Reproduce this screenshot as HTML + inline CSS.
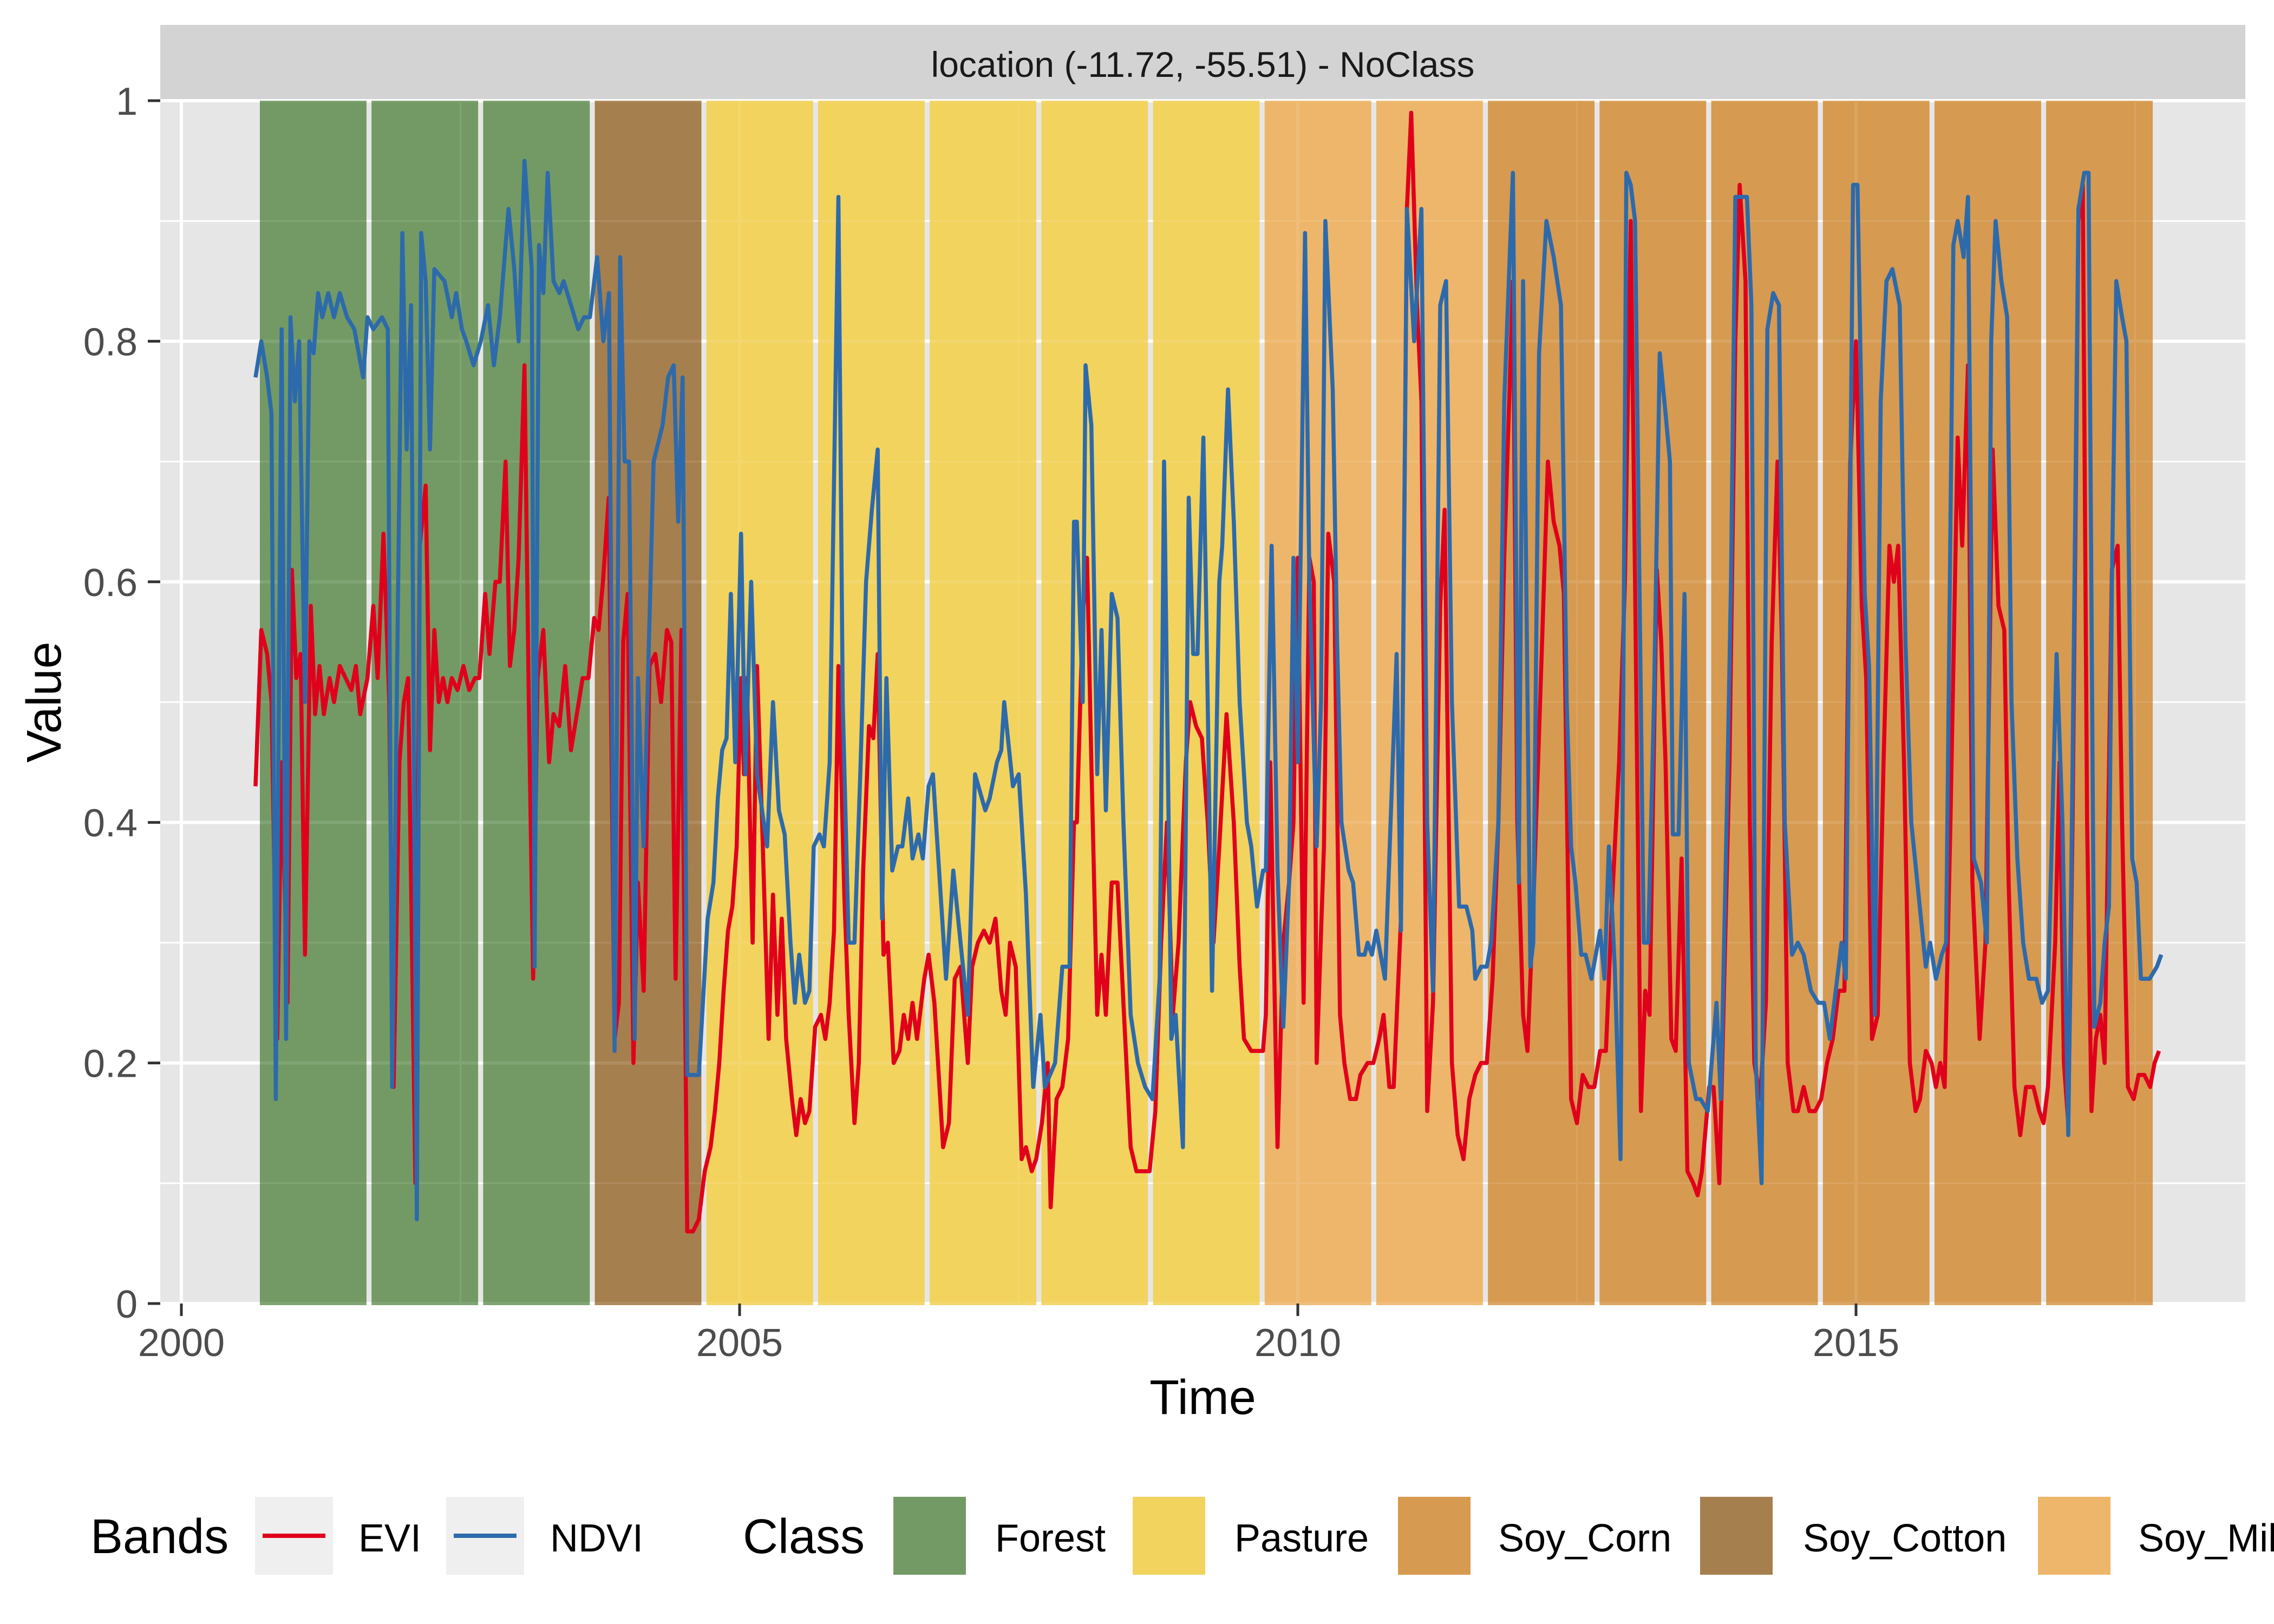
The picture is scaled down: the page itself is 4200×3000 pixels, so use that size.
<!DOCTYPE html>
<html><head><meta charset="utf-8"><style>html,body{margin:0;padding:0;background:#fff}svg{display:block}text{font-family:"Liberation Sans",sans-serif}</style></head>
<body>
<svg id="chart" width="4200" height="3000" viewBox="0 0 4200 3000" xmlns="http://www.w3.org/2000/svg">
<rect x="0" y="0" width="4200" height="3000" fill="#fff"/>
<g id="panel"></g>
</svg>
<script>
const classStarts = [2000.703,2001.703,2002.703,2003.703,2004.703,2005.703,2006.703,2007.703,2008.703,2009.703,2010.703,2011.703,2012.703,2013.703,2014.703,2015.703,2016.703];
const classLabels = ["Forest","Forest","Forest","Soy_Cotton","Pasture","Pasture","Pasture","Pasture","Pasture","Soy_Millet","Soy_Millet","Soy_Corn","Soy_Corn","Soy_Corn","Soy_Corn","Soy_Corn","Soy_Corn"];
const xTicks = [2000,2005,2010,2015];
const yTicks = [0,0.2,0.4,0.6,0.8,1];
const yTickLabels = ["0","0.2","0.4","0.6","0.8","1"];
const ndviTime = [2000.664,2000.716,2000.768,2000.807,2000.846,2000.898,2000.938,2000.977,2001.016,2001.055,2001.107,2001.146,2001.185,2001.224,2001.263,2001.315,2001.367,2001.419,2001.484,2001.549,2001.628,2001.667,2001.719,2001.797,2001.849,2001.888,2001.979,2002.018,2002.057,2002.109,2002.148,2002.188,2002.227,2002.266,2002.357,2002.422,2002.461,2002.513,2002.552,2002.617,2002.682,2002.747,2002.799,2002.852,2002.930,2002.982,2003.021,2003.073,2003.138,2003.164,2003.203,2003.242,2003.281,2003.333,2003.385,2003.424,2003.490,2003.555,2003.607,2003.659,2003.724,2003.780,2003.830,2003.880,2003.930,2003.970,2004.010,2004.060,2004.090,2004.140,2004.230,2004.310,2004.360,2004.410,2004.450,2004.490,2004.531,2004.635,2004.714,2004.766,2004.805,2004.844,2004.883,2004.922,2004.961,2005.013,2005.052,2005.104,2005.156,2005.247,2005.299,2005.352,2005.404,2005.456,2005.495,2005.534,2005.586,2005.625,2005.664,2005.716,2005.755,2005.807,2005.885,2005.924,2005.977,2006.029,2006.081,2006.133,2006.185,2006.237,2006.276,2006.315,2006.367,2006.419,2006.458,2006.510,2006.549,2006.602,2006.641,2006.693,2006.732,2006.849,2006.914,2007.044,2007.109,2007.201,2007.240,2007.305,2007.344,2007.370,2007.448,2007.500,2007.565,2007.630,2007.695,2007.734,2007.826,2007.891,2007.956,2007.995,2008.021,2008.073,2008.099,2008.151,2008.203,2008.242,2008.281,2008.333,2008.385,2008.438,2008.503,2008.568,2008.633,2008.698,2008.763,2008.802,2008.867,2008.906,2008.971,2009.023,2009.063,2009.102,2009.154,2009.193,2009.232,2009.297,2009.323,2009.375,2009.427,2009.479,2009.544,2009.583,2009.635,2009.688,2009.714,2009.766,2009.818,2009.870,2009.922,2009.961,2010.000,2010.065,2010.104,2010.169,2010.208,2010.247,2010.313,2010.352,2010.391,2010.456,2010.495,2010.547,2010.599,2010.625,2010.664,2010.703,2010.781,2010.885,2010.924,2010.977,2011.042,2011.107,2011.159,2011.211,2011.276,2011.328,2011.380,2011.445,2011.510,2011.563,2011.589,2011.641,2011.693,2011.732,2011.797,2011.849,2011.927,2011.979,2012.018,2012.083,2012.109,2012.161,2012.227,2012.292,2012.357,2012.409,2012.448,2012.487,2012.539,2012.578,2012.630,2012.708,2012.747,2012.786,2012.839,2012.891,2012.943,2012.982,2013.021,2013.099,2013.138,2013.190,2013.242,2013.294,2013.333,2013.359,2013.411,2013.464,2013.503,2013.568,2013.607,2013.672,2013.750,2013.789,2013.841,2013.880,2013.919,2013.971,2014.023,2014.063,2014.102,2014.154,2014.206,2014.258,2014.310,2014.362,2014.427,2014.479,2014.531,2014.596,2014.661,2014.714,2014.766,2014.818,2014.870,2014.909,2014.974,2015.013,2015.078,2015.117,2015.169,2015.221,2015.273,2015.326,2015.391,2015.443,2015.495,2015.560,2015.625,2015.664,2015.716,2015.768,2015.807,2015.872,2015.911,2015.964,2016.003,2016.055,2016.120,2016.172,2016.211,2016.250,2016.302,2016.354,2016.393,2016.445,2016.497,2016.549,2016.615,2016.667,2016.719,2016.797,2016.849,2016.901,2016.940,2016.992,2017.044,2017.083,2017.135,2017.188,2017.227,2017.266,2017.292,2017.331,2017.383,2017.422,2017.474,2017.513,2017.552,2017.630,2017.695,2017.734];
const ndviValue = [0.77,0.80,0.77,0.74,0.17,0.81,0.22,0.82,0.75,0.80,0.50,0.80,0.79,0.84,0.82,0.84,0.82,0.84,0.82,0.81,0.77,0.82,0.81,0.82,0.81,0.18,0.89,0.71,0.83,0.07,0.89,0.85,0.71,0.86,0.85,0.82,0.84,0.81,0.80,0.78,0.80,0.83,0.78,0.82,0.91,0.86,0.80,0.95,0.86,0.28,0.88,0.84,0.94,0.85,0.84,0.85,0.83,0.81,0.82,0.82,0.87,0.80,0.84,0.21,0.87,0.70,0.70,0.22,0.52,0.38,0.70,0.73,0.77,0.78,0.65,0.77,0.19,0.19,0.32,0.35,0.42,0.46,0.47,0.59,0.45,0.64,0.44,0.60,0.44,0.38,0.50,0.41,0.39,0.30,0.25,0.29,0.25,0.26,0.38,0.39,0.38,0.45,0.92,0.50,0.30,0.30,0.44,0.60,0.66,0.71,0.32,0.52,0.36,0.38,0.38,0.42,0.37,0.39,0.37,0.43,0.44,0.27,0.36,0.24,0.44,0.41,0.42,0.45,0.46,0.50,0.43,0.44,0.34,0.18,0.24,0.18,0.20,0.28,0.28,0.65,0.65,0.50,0.78,0.73,0.44,0.56,0.41,0.59,0.57,0.40,0.24,0.20,0.18,0.17,0.27,0.70,0.22,0.24,0.13,0.67,0.54,0.54,0.72,0.50,0.26,0.60,0.63,0.76,0.65,0.50,0.40,0.38,0.33,0.36,0.36,0.63,0.36,0.23,0.35,0.62,0.45,0.89,0.60,0.38,0.50,0.90,0.76,0.55,0.40,0.36,0.35,0.29,0.29,0.30,0.29,0.31,0.27,0.54,0.31,0.91,0.80,0.91,0.40,0.26,0.83,0.85,0.50,0.33,0.33,0.31,0.27,0.28,0.28,0.30,0.40,0.75,0.94,0.35,0.85,0.28,0.30,0.79,0.90,0.87,0.83,0.50,0.38,0.35,0.29,0.29,0.27,0.31,0.27,0.38,0.28,0.12,0.94,0.93,0.90,0.30,0.30,0.50,0.79,0.74,0.70,0.39,0.39,0.59,0.20,0.17,0.17,0.16,0.25,0.17,0.40,0.60,0.92,0.92,0.92,0.83,0.20,0.10,0.81,0.84,0.83,0.40,0.29,0.30,0.29,0.26,0.25,0.25,0.22,0.26,0.30,0.27,0.93,0.93,0.59,0.53,0.24,0.75,0.85,0.86,0.83,0.55,0.40,0.34,0.28,0.30,0.27,0.29,0.30,0.88,0.90,0.87,0.92,0.37,0.35,0.30,0.80,0.90,0.85,0.82,0.50,0.37,0.30,0.27,0.27,0.25,0.26,0.54,0.40,0.14,0.45,0.91,0.94,0.94,0.23,0.25,0.30,0.33,0.60,0.85,0.82,0.80,0.37,0.35,0.27,0.27,0.28,0.29];
const eviTime = [2000.664,2000.716,2000.768,2000.807,2000.859,2000.898,2000.951,2000.990,2001.029,2001.068,2001.107,2001.159,2001.198,2001.237,2001.276,2001.328,2001.367,2001.419,2001.471,2001.523,2001.563,2001.602,2001.667,2001.719,2001.758,2001.810,2001.862,2001.901,2001.953,2001.992,2002.031,2002.096,2002.135,2002.188,2002.227,2002.266,2002.305,2002.344,2002.383,2002.422,2002.474,2002.526,2002.578,2002.630,2002.669,2002.721,2002.760,2002.813,2002.852,2002.904,2002.943,2002.982,2003.021,2003.073,2003.112,2003.151,2003.190,2003.242,2003.294,2003.333,2003.385,2003.438,2003.490,2003.542,2003.594,2003.646,2003.698,2003.737,2003.776,2003.828,2003.880,2003.919,2003.958,2003.997,2004.049,2004.089,2004.141,2004.193,2004.245,2004.297,2004.349,2004.388,2004.427,2004.479,2004.531,2004.583,2004.635,2004.688,2004.740,2004.779,2004.818,2004.857,2004.896,2004.935,2004.974,2005.013,2005.039,2005.065,2005.117,2005.156,2005.208,2005.260,2005.299,2005.339,2005.378,2005.417,2005.469,2005.508,2005.547,2005.586,2005.625,2005.677,2005.729,2005.768,2005.807,2005.846,2005.885,2005.938,2005.977,2006.029,2006.068,2006.107,2006.159,2006.198,2006.237,2006.289,2006.328,2006.380,2006.432,2006.471,2006.510,2006.549,2006.589,2006.654,2006.693,2006.745,2006.823,2006.875,2006.927,2006.979,2007.044,2007.083,2007.135,2007.188,2007.240,2007.292,2007.344,2007.383,2007.422,2007.474,2007.526,2007.565,2007.617,2007.656,2007.708,2007.760,2007.786,2007.839,2007.891,2007.943,2007.995,2008.021,2008.073,2008.112,2008.151,2008.203,2008.242,2008.281,2008.333,2008.385,2008.438,2008.503,2008.555,2008.607,2008.672,2008.724,2008.776,2008.828,2008.880,2008.932,2008.997,2009.036,2009.089,2009.141,2009.193,2009.245,2009.297,2009.362,2009.427,2009.479,2009.518,2009.583,2009.635,2009.688,2009.714,2009.753,2009.818,2009.870,2009.922,2009.961,2010.000,2010.052,2010.104,2010.143,2010.169,2010.234,2010.273,2010.326,2010.378,2010.417,2010.469,2010.521,2010.560,2010.625,2010.677,2010.729,2010.768,2010.820,2010.859,2010.924,2010.977,2011.016,2011.068,2011.107,2011.159,2011.211,2011.276,2011.315,2011.380,2011.432,2011.484,2011.536,2011.589,2011.641,2011.693,2011.745,2011.797,2011.849,2011.927,2011.966,2012.018,2012.057,2012.109,2012.188,2012.240,2012.292,2012.344,2012.383,2012.448,2012.500,2012.552,2012.604,2012.656,2012.708,2012.760,2012.813,2012.878,2012.930,2012.982,2013.021,2013.073,2013.112,2013.151,2013.216,2013.255,2013.294,2013.346,2013.385,2013.438,2013.490,2013.542,2013.581,2013.620,2013.685,2013.724,2013.776,2013.828,2013.867,2013.919,2013.958,2014.010,2014.049,2014.089,2014.141,2014.193,2014.245,2014.297,2014.336,2014.388,2014.440,2014.479,2014.531,2014.583,2014.635,2014.688,2014.740,2014.792,2014.844,2014.896,2014.948,2015.000,2015.052,2015.091,2015.143,2015.195,2015.247,2015.299,2015.339,2015.378,2015.430,2015.482,2015.534,2015.573,2015.625,2015.677,2015.716,2015.755,2015.794,2015.846,2015.911,2015.951,2016.003,2016.042,2016.107,2016.159,2016.224,2016.276,2016.328,2016.367,2016.419,2016.471,2016.523,2016.589,2016.641,2016.680,2016.719,2016.784,2016.823,2016.862,2016.901,2016.940,2016.992,2017.031,2017.070,2017.109,2017.148,2017.188,2017.227,2017.292,2017.344,2017.383,2017.435,2017.487,2017.531,2017.583,2017.635,2017.674,2017.714];
const eviValue = [0.43,0.56,0.54,0.50,0.22,0.45,0.25,0.61,0.52,0.54,0.29,0.58,0.49,0.53,0.49,0.52,0.50,0.53,0.52,0.51,0.53,0.49,0.52,0.58,0.52,0.64,0.50,0.18,0.45,0.50,0.52,0.10,0.63,0.68,0.46,0.56,0.50,0.52,0.50,0.52,0.51,0.53,0.51,0.52,0.52,0.59,0.54,0.60,0.60,0.70,0.53,0.56,0.62,0.78,0.50,0.27,0.52,0.56,0.45,0.49,0.48,0.53,0.46,0.49,0.52,0.52,0.57,0.56,0.60,0.67,0.22,0.25,0.55,0.59,0.20,0.35,0.26,0.53,0.54,0.50,0.56,0.55,0.27,0.56,0.06,0.06,0.07,0.11,0.13,0.16,0.20,0.26,0.31,0.33,0.38,0.52,0.44,0.52,0.30,0.53,0.38,0.22,0.34,0.24,0.32,0.22,0.17,0.14,0.17,0.15,0.16,0.23,0.24,0.22,0.25,0.31,0.53,0.34,0.24,0.15,0.20,0.36,0.48,0.47,0.54,0.29,0.30,0.20,0.21,0.24,0.22,0.25,0.22,0.27,0.29,0.25,0.13,0.15,0.27,0.28,0.20,0.28,0.30,0.31,0.30,0.32,0.26,0.24,0.30,0.28,0.12,0.13,0.11,0.12,0.15,0.20,0.08,0.17,0.18,0.22,0.40,0.40,0.57,0.62,0.45,0.24,0.29,0.24,0.35,0.35,0.25,0.13,0.11,0.11,0.11,0.16,0.30,0.40,0.24,0.30,0.45,0.50,0.48,0.47,0.40,0.30,0.38,0.49,0.40,0.28,0.22,0.21,0.21,0.21,0.24,0.45,0.13,0.30,0.35,0.40,0.62,0.25,0.62,0.60,0.20,0.38,0.64,0.60,0.24,0.20,0.17,0.17,0.19,0.20,0.20,0.22,0.24,0.18,0.18,0.32,0.91,0.99,0.83,0.75,0.16,0.25,0.58,0.66,0.20,0.14,0.12,0.17,0.19,0.20,0.20,0.27,0.40,0.62,0.85,0.40,0.24,0.21,0.33,0.55,0.70,0.65,0.63,0.59,0.17,0.15,0.19,0.18,0.18,0.21,0.21,0.33,0.45,0.60,0.90,0.60,0.16,0.26,0.24,0.61,0.55,0.45,0.22,0.21,0.37,0.11,0.10,0.09,0.11,0.18,0.18,0.10,0.30,0.45,0.80,0.93,0.85,0.40,0.20,0.17,0.25,0.55,0.70,0.55,0.20,0.16,0.16,0.18,0.16,0.16,0.17,0.20,0.22,0.26,0.26,0.70,0.80,0.58,0.52,0.22,0.24,0.45,0.63,0.60,0.63,0.45,0.20,0.16,0.17,0.21,0.20,0.18,0.20,0.18,0.40,0.72,0.63,0.78,0.35,0.22,0.30,0.71,0.58,0.56,0.35,0.18,0.14,0.18,0.18,0.16,0.15,0.18,0.30,0.45,0.20,0.15,0.40,0.90,0.93,0.40,0.16,0.22,0.24,0.20,0.61,0.63,0.40,0.18,0.17,0.19,0.19,0.18,0.20,0.21];

const NS = "http://www.w3.org/2000/svg";
const svg = document.getElementById('chart');
const PL = 296, PR = 4147, PT = 186, PB = 2408;
const X = t => 335 + (t - 2000) * 206.2;
const Y = v => PB - (PB - PT) * v;
const classColor = {Forest:"#739a64", Pasture:"#f2d35e", Soy_Corn:"#d69a50", Soy_Cotton:"#a67f4e", Soy_Millet:"#eeb66a"};
function mk(tag, attrs, parent) {
  const e = document.createElementNS(NS, tag);
  for (const k in attrs) e.setAttribute(k, attrs[k]);
  (parent || svg).appendChild(e);
  return e;
}
function txt(s, attrs, parent) { const e = mk('text', attrs, parent); e.textContent = s; return e; }

const strip = mk('rect', {x: PL, y: 46, width: PR - PL, height: PT - 46, fill: '#d3d3d3'});


const st = txt('location (-11.72, -55.51) - NoClass', {x: (PL + PR) / 2, y: 142, 'font-size': 66, fill: '#1a1a1a', 'text-anchor': 'middle'});



const bg = mk('rect', {x: PL, y: PT, width: PR - PL, height: PB - PT, fill: '#e6e6e6'});



function grid(opacity) {
  const g = mk('g', {opacity: opacity});
  [0.1,0.3,0.5,0.7,0.9].forEach(v => mk('line', {x1: PL, x2: PR, y1: Y(v), y2: Y(v), stroke: '#fff', 'stroke-width': 3}, g));
  [2002.5,2007.5,2012.5,2017.5].forEach(t => mk('line', {x1: X(t), x2: X(t), y1: PT, y2: PB, stroke: '#fff', 'stroke-width': 3}, g));
  yTicks.forEach(v => mk('line', {x1: PL, x2: PR, y1: Y(v), y2: Y(v), stroke: '#fff', 'stroke-width': 6}, g));
  xTicks.forEach(t => mk('line', {x1: X(t), x2: X(t), y1: PT, y2: PB, stroke: '#fff', 'stroke-width': 6}, g));
  return g;
}
grid(1);

classStarts.forEach((s, i) => {
  const r = mk('rect', {x: X(s), y: PT, width: 0.955 * 206.2, height: PB - PT + 3, fill: classColor[classLabels[i]]});
  
  
});
grid(0.1);

function series(ts, vs, color, name) {
  const d = ts.map((t, i) => (i ? 'L' : 'M') + X(t).toFixed(1) + ',' + Y(vs[i]).toFixed(1)).join('');
  const p = mk('path', {d: d, fill: 'none', stroke: color, 'stroke-width': 7.5, 'stroke-linejoin': 'round'});
  
  
}
series(eviTime, eviValue, '#e0001b', 'evi-line');
series(ndviTime, ndviValue, '#2d6aab', 'ndvi-line');

yTicks.forEach((v, i) => {
  mk('line', {x1: 273, x2: PL, y1: Y(v), y2: Y(v), stroke: '#333', 'stroke-width': 5});
  const t = txt(yTickLabels[i], {x: 254, y: Y(v) + 26, 'font-size': 72, fill: '#4d4d4d', 'text-anchor': 'end'});
  
  
});
xTicks.forEach(v => {
  mk('line', {x1: X(v), x2: X(v), y1: PB, y2: PB + 23, stroke: '#333', 'stroke-width': 5});
  const t = txt(String(v), {x: X(v), y: 2505, 'font-size': 72, fill: '#4d4d4d', 'text-anchor': 'middle'});
  
  
});
const xt = txt('Time', {x: (PL + PR) / 2, y: 2612, 'font-size': 90, fill: '#000', 'text-anchor': 'middle'});


const yt = txt('Value', {x: 0, y: 0, 'font-size': 90, fill: '#000', 'text-anchor': 'middle', transform: 'translate(112,1297) rotate(-90)'});



const LY = 2866;
const lb = txt('Bands', {x: 167, y: LY + 3, 'font-size': 90, fill: '#000'});


[[471, 'EVI', '#e0001b', 662], [824, 'NDVI', '#2d6aab', 1016]].forEach(b => {
  const g = mk('g', {});
  
  
  mk('rect', {x: b[0], y: 2765, width: 144, height: 144, fill: '#efefef'}, g);
  mk('line', {x1: b[0] + 14, x2: b[0] + 130, y1: 2837, y2: 2837, stroke: b[2], 'stroke-width': 8}, g);
  txt(b[1], {x: b[3], y: LY, 'font-size': 72, fill: '#000'}, g);
});
const lc = txt('Class', {x: 1372, y: LY + 3, 'font-size': 90, fill: '#000'});


[[1650, 'Forest', 1838], [2092, 'Pasture', 2280], [2582, 'Soy_Corn', 2767], [3140, 'Soy_Cotton', 3330], [3764, 'Soy_Millet', 3949]].forEach(c => {
  const g = mk('g', {});
  
  
  mk('rect', {x: c[0], y: 2765, width: 134, height: 144, fill: classColor[c[1]]}, g);
  txt(c[1], {x: c[2], y: LY, 'font-size': 72, fill: '#000'}, g);
});
</script>
</body></html>
